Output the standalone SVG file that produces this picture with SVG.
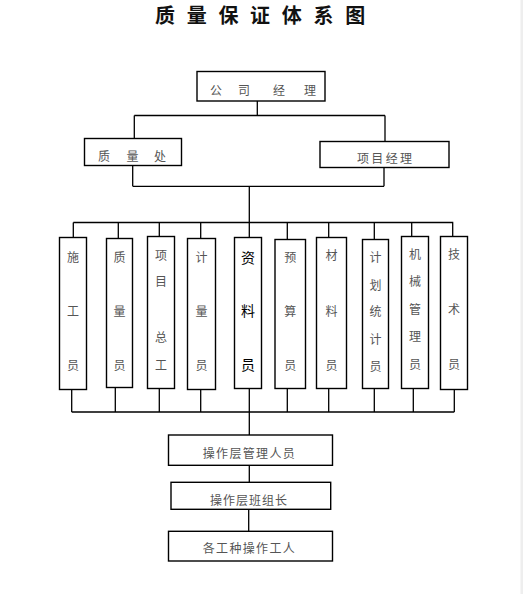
<svg xmlns="http://www.w3.org/2000/svg" width="523" height="594" viewBox="0 0 523 594">
<style>
.box{fill:#fff;stroke:#000;stroke-width:1.4}
.ln{stroke:#000;stroke-width:1.3;fill:none}
.t{font-family:"Noto Sans CJK SC","Noto Sans CJK JP",sans-serif;font-size:12px;fill:#555;dominant-baseline:central}
.c{text-anchor:middle}
.big{font-size:14px;fill:#000}
.title{font-family:"Noto Sans CJK SC","Noto Sans CJK JP",sans-serif;font-size:20px;font-weight:bold;fill:#111;dominant-baseline:central}
</style>
<rect x="0" y="0" width="523" height="594" fill="#fff"/>
<rect x="520.5" y="0" width="2.5" height="594" fill="#eeeeee"/>
<text class="title" x="155" y="14.5" letter-spacing="11.7">质量保证体系图</text>

<g id="connectors">
<path class="ln" d="M257.3 101V115.5M134.3 115.5H385M134.3 115.5V138.3M385 115.5V141.3"/>
<path class="ln" d="M132.7 165.3V186.3M384 167.3V186.3M132.7 186.3H384M249.3 186.3V237.5"/>
<path class="ln" d="M73.3 222.5H453.3M73.3 222.5V237.5M118.3 222.5V238.5M159.3 222.5V236.5M200.7 222.5V238.5M287.3 222.5V239.5M328.7 222.5V237.5M374.3 222.5V239.5M411.7 222.5V236.5M452.7 222.5V236.5"/>
<path class="ln" d="M71.7 412H454.3M71.7 389.5V412M115.3 387.5V412M159.3 388.5V412M200.7 389.5V412M249.3 388.5V435M287.3 388.5V412M328.7 388.5V412M374.3 388.5V412M413.3 388.5V412M454.3 389.5V412"/>
<path class="ln" d="M249.3 465.3V482.3M248.7 509.3V531.3"/>
</g>

<g id="n-gongsi">
<rect class="box" x="197" y="71.5" width="128" height="29.5"/>
<text class="t c" x="216 244 279 310" y="89">公司经理</text>
</g>
<g id="n-zhiliangchu">
<rect class="box" x="84.5" y="138.5" width="97" height="27"/>
<text class="t c" x="104 132.5 160" y="155.5">质量处</text>
</g>
<g id="n-xiangmujingli">
<rect class="box" x="320" y="141.5" width="129" height="26"/>
<text class="t c" x="363 377.3 391.7 406" y="157">项目经理</text>
</g>

<g id="n-shigongyuan">
<rect class="box" x="59.5" y="237.5" width="27" height="152"/>
<text class="t c" x="73 73 73" y="256.7 310 364">施工员</text>
</g>
<g id="n-zhiliangyuan">
<rect class="box" x="106.5" y="238.5" width="26" height="149"/>
<text class="t c" x="119.5 119.5 119.5" y="256.7 310 364">质量员</text>
</g>
<g id="n-xiangmuzonggong">
<rect class="box" x="147.5" y="236.5" width="27" height="152"/>
<text class="t c" x="161 161 161 161" y="254 280.7 336.7 364">项目总工</text>
</g>
<g id="n-jiliangyuan">
<rect class="box" x="187.5" y="238.5" width="28" height="151"/>
<text class="t c" x="201.5 201.5 201.5" y="256.7 310 364">计量员</text>
</g>
<g id="n-ziliaoyuan">
<rect class="box" x="234.5" y="237.5" width="27" height="151"/>
<text class="t c big" x="248 248 248" y="256.7 310 364">资料员</text>
</g>
<g id="n-yusuanyuan">
<rect class="box" x="275" y="239.5" width="30.5" height="149"/>
<text class="t c" x="290.3 290.3 290.3" y="256.7 310 364">预算员</text>
</g>
<g id="n-cailiaoyuan">
<rect class="box" x="316.5" y="237.5" width="30" height="151"/>
<text class="t c" x="331.5 331.5 331.5" y="254 310 364">材料员</text>
</g>
<g id="n-jihuatongjiyuan">
<rect class="box" x="362.5" y="239.5" width="26" height="149"/>
<text class="t c" x="375.5 375.5 375.5 375.5 375.5" y="256.7 284 310.7 338.3 365">计划统计员</text>
</g>
<g id="n-jixieguanliyuan">
<rect class="box" x="401.5" y="236.5" width="27" height="152"/>
<text class="t c" x="415 415 415 415 415" y="253.3 280.7 308.3 335 363.3">机械管理员</text>
</g>
<g id="n-jishuyuan">
<rect class="box" x="440.5" y="236.5" width="27" height="153"/>
<text class="t c" x="454 454 454" y="253.3 308.3 363.3">技术员</text>
</g>

<g id="n-caozuoceng-guanli">
<rect class="box" x="168.5" y="435" width="164" height="30.3"/>
<text class="t" x="202.7" y="452.3" font-size="12.5" letter-spacing="1.35">操作层管理人员</text>
</g>
<g id="n-caozuoceng-banzu">
<rect class="box" x="171" y="482.3" width="159.7" height="27"/>
<text class="t" x="210" y="499" font-size="12.5" letter-spacing="1">操作层班组长</text>
</g>
<g id="n-gegongzhong">
<rect class="box" x="168.5" y="531.3" width="164" height="29.7"/>
<text class="t" x="202.7" y="547.7" font-size="12.5" letter-spacing="1.35">各工种操作工人</text>
</g>
</svg>
